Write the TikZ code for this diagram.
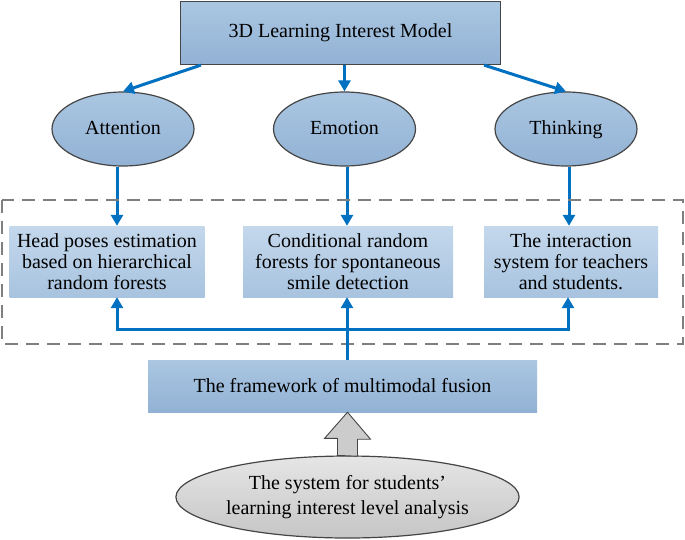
\documentclass[tikz,border=0pt]{standalone}
\usepackage{fontspec}
\setmainfont{Liberation Serif}
\usetikzlibrary{shapes.geometric,arrows.meta}

\definecolor{boxtop}{HTML}{AAC6E1}
\definecolor{boxbot}{HTML}{92B2D5}
\definecolor{methtop}{HTML}{C4D8EC}
\definecolor{methbot}{HTML}{A8C3DF}
\definecolor{linkblue}{HTML}{0070C0}
\definecolor{edgegray}{HTML}{454545}
\definecolor{dashgray}{HTML}{7F7F7F}

\begin{document}
\begin{tikzpicture}[x=1pt,y=-1pt,font=\fontsize{20}{21}\selectfont,
    modelbox/.style={draw=edgegray, line width=1.2pt, top color=boxtop, bottom color=boxbot,
                     minimum width=320pt, minimum height=63pt, inner sep=0pt},
    dimension/.style={ellipse, draw=edgegray, line width=1.2pt, top color=boxtop, bottom color=boxbot,
                      minimum width=142pt, minimum height=74pt, inner sep=0pt,
                      text height=14pt, text depth=4pt},
    method/.style={top color=methtop, bottom color=methbot, align=center,
                   minimum height=71pt, inner sep=0pt},
    fusebox/.style={top color=boxtop, bottom color=boxbot, minimum width=389pt,
                    minimum height=52pt, inner sep=0pt},
    sysnode/.style={ellipse, draw=edgegray, line width=1.2pt, top color=gray!20, bottom color=gray!45,
                    minimum width=301pt, minimum height=82pt, inner sep=0pt, align=center},
    link/.style={draw=linkblue, line width=3pt, -{Triangle[length=11pt,width=12pt]}},
    liftarrow/.style={draw=edgegray, line width=0.9pt, fill=gray!40, line join=miter}]
    \useasboundingbox (0,0) rectangle (685,539);

    % Modelo y dimensiones
    \node[modelbox] (model) at (340.5,33) {3D Learning Interest Model};

    \node[dimension] (att) at (123,129) {Attention};
    \node[dimension] (emo) at (344.5,129) {Emotion};
    \node[dimension] (thi) at (566,129) {Thinking};

    \draw[link] ([xshift=21pt]model.south west) -- (att.north);
    \draw[link] (emo.north |- model.south) -- (emo.north);
    \draw[link] ([xshift=-17pt]model.south east) -- (thi.north);

    % Metodos
    \node[method, minimum width=195pt] (head) at (107,261.5)
        {Head poses estimation\\based on hierarchical\\random forests};
    \node[method, minimum width=210pt] (cond) at (348,261.5)
        {Conditional random\\forests for spontaneous\\smile detection};
    \node[method, minimum width=174pt] (inter) at (571,261.5)
        {The interaction\\system for teachers\\and students.};

    \draw[link] ([xshift=-6pt]att.south) -- ([xshift=-6pt]att.south |- head.north);
    \draw[link] ([xshift=2.5pt]emo.south) -- ([xshift=2.5pt]emo.south |- cond.north);
    \draw[link] ([xshift=3pt]thi.south) -- ([xshift=3pt]thi.south |- inter.north);

    \draw[dashgray, line width=2.7pt, dash pattern=on 13pt off 8pt] (2,200) rectangle (683,344);

    % Fusion
    \node[fusebox] (fuse) at (342.5,386) {The framework of multimodal fusion};
    \coordinate (bus) at (347,329);

    \draw[link] ([xshift=-1pt]cond.south |- fuse.north) -- ([xshift=-1pt]cond.south);
    \draw[link] (bus) -| ([xshift=10pt]head.south);
    \draw[link] (bus) -| ([xshift=-3pt]inter.south);

    % Sistema
    \node[sysnode, font=\fontsize{20}{25}\selectfont] (sys) at (347.5,497)
        {The system for students’\\learning interest level analysis};

    \draw[liftarrow] ([xshift=-10pt]sys.north) -- ++(0,-17) -- ++(-13,0) -- (sys.north |- fuse.south)
        -- ++(23,27) -- ++(-13,0) -- ++(0,17) -- cycle;
\end{tikzpicture}
\end{document}
